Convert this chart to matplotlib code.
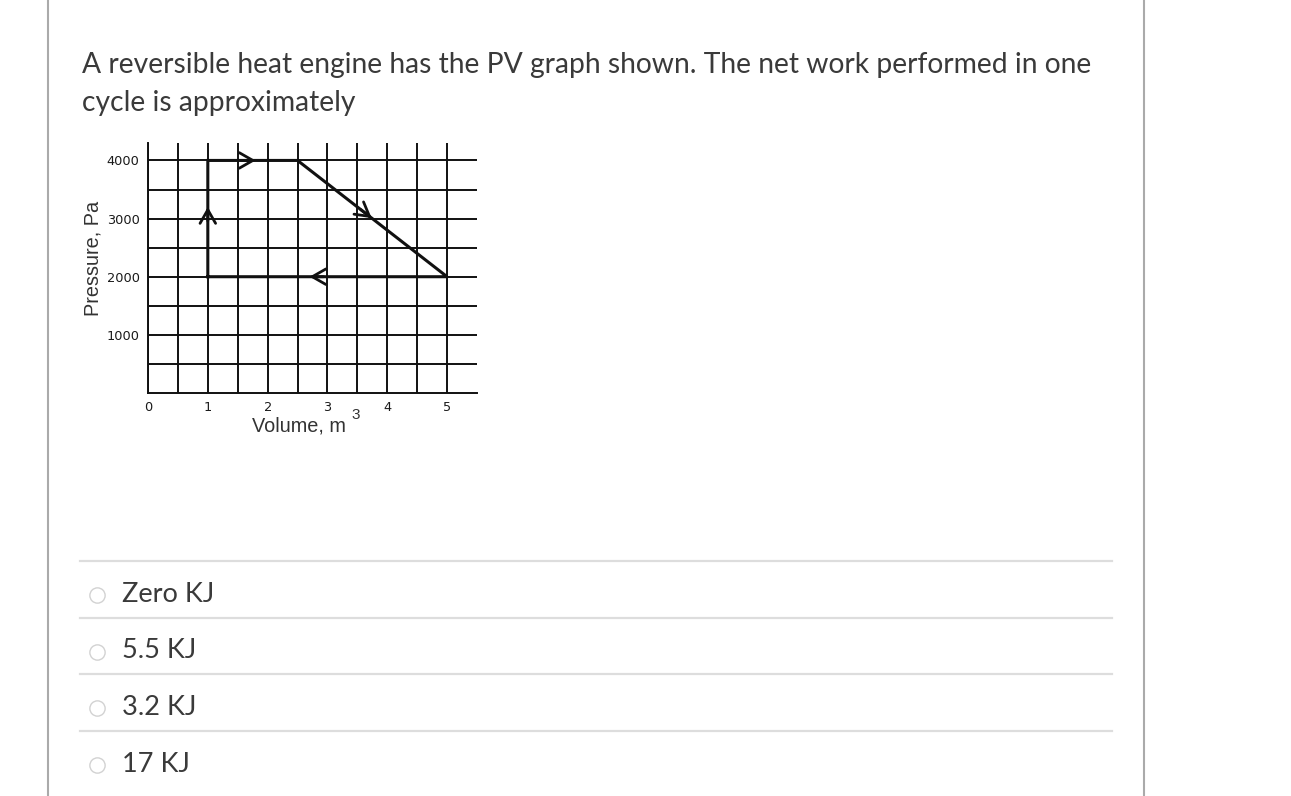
import matplotlib
matplotlib.use("Agg")
import matplotlib.pyplot as plt
from matplotlib.lines import Line2D

# cycle on the PV diagram (V in m^3, P in Pa)
volume = [1, 1, 2.5, 5, 1]
pressure = [2000, 4000, 4000, 2000, 2000]

# where the arrow heads sit on each leg
arrow_v = [1, 1.8, 3.74, 2.7]
arrow_p = [3200, 4000, 3008, 2000]

x_ticks = [0, 1, 2, 3, 4, 5]
y_ticks = [1000, 2000, 3000, 4000]

question = ["A reversible heat engine has the PV graph shown. The net work performed in one",
            "cycle is approximately"]
options = ["Zero KJ", "5.5 KJ", "3.2 KJ", "17 KJ"]

W, H = 1291, 796
fig = plt.figure(figsize=(W / 100, H / 100), dpi=100)
fig.patch.set_facecolor("white")


def fx(x):
    return x / W


def fy(y):
    return 1 - y / H


text_col = "#3a3a3a"

# page frame
for xb in [48, 1144]:
    fig.add_artist(Line2D([fx(xb), fx(xb)], [0, 1], color="#aaaaaa", lw=1.5))

# question text
for i, line in enumerate(question):
    fig.text(fx(82), fy(72.7 + i * 38.5), line, family="Lato", fontsize=20.3,
             color=text_col, va="baseline", ha="left")

# answer list
sep_y = [561, 617.5, 674, 731]
for i, opt in enumerate(options):
    y0 = sep_y[i]
    fig.add_artist(Line2D([fx(80), fx(1112)], [fy(y0), fy(y0)], color="#dddddd", lw=1.6))
    fig.add_artist(Line2D([fx(97)], [fy(y0 + 34)], marker="o", markersize=11,
                          markerfacecolor="white", markeredgecolor="#d2d2d2", mew=1))
    fig.text(fx(122), fy(y0 + 40.7), opt, family="Lato", fontsize=19.5,
             color=text_col, va="baseline", ha="left")

# PV graph
ax = fig.add_axes([fx(148), fy(393), 329 / W, 250 / H])
ax.set_xlim(0, 5.5)
ax.set_ylim(0, 4300)
ax.set_xticks(x_ticks)
ax.set_xticks([0.5, 1.5, 2.5, 3.5, 4.5], minor=True)
ax.set_yticks(y_ticks)
ax.set_yticks([500, 1500, 2500, 3500], minor=True)
ax.set_xticklabels([str(v) for v in x_ticks])
ax.set_yticklabels([str(v) for v in y_ticks])
ax.tick_params(which="both", length=0)
ax.tick_params(axis="x", pad=6)
ax.tick_params(axis="y", pad=6)
for lab in ax.get_xticklabels() + ax.get_yticklabels():
    lab.set_family("DejaVu Sans")
    lab.set_fontsize(9.3)
    lab.set_color("#1a1a1a")
ax.grid(which="both", color="#111111", lw=1.4)
ax.set_axisbelow(True)
for s in ["top", "right"]:
    ax.spines[s].set_visible(False)
for s in ["left", "bottom"]:
    ax.spines[s].set_color("#111111")
    ax.spines[s].set_linewidth(1.4)

ax.plot(volume, pressure, color="#111111", lw=2.2, solid_joinstyle="miter", zorder=3)

# open chevron arrows along each leg
for k in range(len(arrow_v)):
    dv = volume[k + 1] - volume[k]
    dp = pressure[k + 1] - pressure[k]
    # direction in screen units
    sx = dv / 5.5 * 329
    sy = dp / 4300 * 250
    n = (sx ** 2 + sy ** 2) ** 0.5
    back_v = arrow_v[k] - sx / n * 14 * 5.5 / 329
    back_p = arrow_p[k] - sy / n * 14 * 4300 / 250
    ax.annotate("", xy=(arrow_v[k], arrow_p[k]), xytext=(back_v, back_p),
                arrowprops=dict(arrowstyle="->,head_length=0.7,head_width=0.4",
                                color="#111111", lw=2, mutation_scale=14,
                                shrinkA=0, shrinkB=0), zorder=4)

ax.set_xlabel("Volume, m", family="Liberation Sans", fontsize=14.3, color="#333333")
ax.xaxis.set_label_coords(0.459, -0.134)
ax.xaxis.label.set_va("center")
ax.text(0.632, -0.088, "3", transform=ax.transAxes, family="Liberation Sans",
        fontsize=11, color="#333333", ha="center", va="center")
ax.set_ylabel("Pressure, Pa", family="Liberation Sans", fontsize=14.3, color="#333333")
ax.yaxis.set_label_coords(-0.167, 0.54)
ax.yaxis.label.set_va("center")

fig.savefig("out.png", dpi=100)
